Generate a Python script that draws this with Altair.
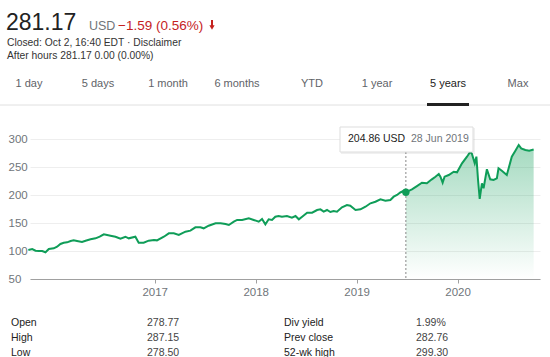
import altair as alt
import pandas as pd

# ---------------- data ----------------
dates = [
    "2015-10-02", "2015-10-16", "2015-10-28", "2015-11-09", "2015-11-21", "2015-12-03", "2015-12-15",
    "2016-01-02", "2016-01-14", "2016-01-26", "2016-02-07", "2016-02-19", "2016-03-03", "2016-03-14",
    "2016-03-26", "2016-04-13", "2016-04-26", "2016-05-14", "2016-06-01", "2016-06-16", "2016-07-01",
    "2016-07-13", "2016-07-25", "2016-08-12", "2016-08-30", "2016-09-17", "2016-09-29", "2016-10-23",
    "2016-11-04", "2016-11-22", "2016-12-10", "2016-12-29",
    "2017-01-09", "2017-02-03", "2017-02-21", "2017-03-11", "2017-03-29", "2017-04-22", "2017-05-10",
    "2017-05-28", "2017-06-15", "2017-06-27", "2017-07-15", "2017-08-09", "2017-08-27", "2017-09-14",
    "2017-09-26", "2017-10-14", "2017-10-26", "2017-11-13", "2017-12-07", "2017-12-25",
    "2018-01-12", "2018-01-24", "2018-02-05", "2018-02-17", "2018-03-01", "2018-03-13", "2018-03-25",
    "2018-04-06", "2018-04-24", "2018-05-12", "2018-05-25", "2018-06-06", "2018-06-18", "2018-07-06",
    "2018-07-24", "2018-08-11", "2018-08-23", "2018-09-04", "2018-09-16", "2018-09-28", "2018-10-10",
    "2018-10-22", "2018-11-09", "2018-11-27", "2018-12-09", "2018-12-28",
    "2019-01-15", "2019-02-02", "2019-02-20", "2019-03-10", "2019-03-28", "2019-04-15", "2019-05-03",
    "2019-05-15", "2019-05-27", "2019-06-08", "2019-06-18", "2019-06-28", "2019-07-20", "2019-08-07",
    "2019-08-25", "2019-09-12", "2019-09-30", "2019-10-13", "2019-10-25", "2019-10-31", "2019-11-08",
    "2019-11-15", "2019-11-30", "2019-12-18", "2019-12-30",
    "2020-01-17", "2020-02-04", "2020-02-16", "2020-02-22", "2020-03-03", "2020-03-09", "2020-03-15",
    "2020-03-21", "2020-03-29", "2020-04-04", "2020-04-16", "2020-04-28", "2020-05-10", "2020-05-22",
    "2020-05-28", "2020-06-09", "2020-06-27", "2020-07-15", "2020-07-28", "2020-08-09", "2020-08-18",
    "2020-09-02", "2020-09-16", "2020-10-02",
]
prices = [
    101.8, 103.6, 100.6, 100.0, 100.0, 97.7, 103.6,
    104.8, 107.7, 112.5, 114.8, 115.5, 117.8, 119.0,
    117.8, 116.0, 118.4, 120.9, 122.6, 125.5, 129.8,
    128.6, 127.4, 125.5, 122.0, 125.5, 122.6, 125.5,
    114.8, 114.8, 118.4, 119.6,
    119.0, 125.5, 131.5, 131.5, 128.6, 134.5, 136.3,
    142.3, 142.3, 140.5, 145.2, 149.5, 149.5, 148.2,
    146.4, 152.3, 155.4, 155.4, 158.4, 155.4,
    152.3, 157.1, 147.6, 156.6, 155.4, 161.3, 162.5,
    161.3, 162.5, 159.5, 162.5, 156.6, 161.3, 168.4,
    168.4, 173.2, 174.4, 170.2, 173.2, 169.6, 171.4,
    170.2, 178.0, 182.1, 180.9, 173.2,
    174.4, 179.1, 185.2, 188.0, 192.3, 189.8, 191.1,
    197.0, 200.0, 204.5, 206.8, 204.86, 210.2, 216.0,
    222.0, 220.9, 228.0, 232.7, 237.5, 232.7, 222.0,
    232.7, 235.7, 241.6, 240.5,
    256.6, 268.4, 277.3, 273.2, 256.6, 268.4, 226.8,
    192.9, 220.9, 212.0, 245.9, 228.0, 226.8, 229.8,
    247.7, 243.4, 235.7, 268.4, 279.1, 289.3, 283.3,
    280.4, 279.1, 281.17,
]
highlight_date = "2019-06-28"
highlight_price = 204.86
highlight_label = "204.86 USD"
highlight_date_label = "28 Jun 2019"

tick_years = [2017, 2018, 2019, 2020]
y_ticks = [50, 100, 150, 200, 250, 300]

price_now = "281.17"
currency = "USD"
change = "\u22121.59 (0.56%)"
closed_note = "Closed: Oct 2, 16:40 EDT \u00b7 Disclaimer"
after_hours = "After hours 281.17 0.00 (0.00%)"

tabs = ["1 day", "5 days", "1 month", "6 months", "YTD", "1 year", "5 years", "Max"]
selected_tab = "5 years"

stat_labels_left = ["Open", "High", "Low"]
stat_values_left = ["278.77", "287.15", "278.50"]
stat_labels_right = ["Div yield", "Prev close", "52-wk high"]
stat_values_right = ["1.99%", "282.76", "299.30"]

# ---------------- layout / style ----------------
FONT = "Liberation Sans"
GREEN = "#0f9d58"
RED = "#c5221f"
OX, OY = 30, 125           # plot origin in page pixels
PW, PH = 510, 154          # plot size
tab_x = [29, 98, 168, 237, 312, 377, 448, 518]
stat_x = [11, 147, 284, 416]
stat_y = [323, 337.5, 352.5]

df = pd.DataFrame({"date": dates, "price": prices})
df_area = df[df["date"] >= highlight_date]
df_hl = pd.DataFrame({"date": [highlight_date], "price": [highlight_price]})
one = pd.DataFrame({"k": [0]})

x_axis = alt.Axis(
    values=[alt.DateTime(year=y, month=1, date=1) for y in tick_years],
    format="%Y", grid=False, domainColor="#a0a0a0", tickColor="#a0a0a0",
    tickSize=4, labelPadding=3, labelFontSize=11.5, labelColor="#70757a",
    labelFont=FONT, title=None,
)
y_axis = alt.Axis(
    values=y_ticks, grid=True, gridColor="#eeeeee", domain=False, ticks=False,
    tickSize=0, labelAlign="left", labelPadding=22, labelFontSize=11.5,
    labelColor="#70757a", labelFont=FONT, title=None, labelOverlap=False,
)
x_scale = alt.Scale(domain=[alt.DateTime(year=2015, month=10, date=8),
                            alt.DateTime(year=2020, month=10, date=25)])
y_scale = alt.Scale(domain=[50, 325], nice=False, zero=False)

x_enc = alt.X("date:T", scale=x_scale, axis=x_axis)
y_enc = alt.Y("price:Q", scale=y_scale, axis=y_axis)


def text_layer(s, ax, ay, size=12.0, color="#222222", align="left", weight="normal"):
    return alt.Chart(one).mark_text(
        align=align, baseline="middle", fontSize=size, color=color,
        font=FONT, fontWeight=weight,
    ).encode(x=alt.value(ax - OX), y=alt.value(ay - OY), text=alt.value(s))


def hrule(x1, x2, ay, color, width):
    return alt.Chart(one).mark_rule(color=color, strokeWidth=width).encode(
        x=alt.value(x1 - OX), x2=alt.value(x2 - OX), y=alt.value(ay - OY))


def vrule_px(ax, y1, y2, color, width):
    return alt.Chart(one).mark_rule(color=color, strokeWidth=width).encode(
        x=alt.value(ax - OX), y=alt.value(y1 - OY), y2=alt.value(y2 - OY))


def box(x1, x2, y1, y2, fill, stroke=None, opacity=1.0):
    kw = dict(color=fill, opacity=opacity)
    if stroke:
        kw.update(stroke=stroke, strokeWidth=1)
    return alt.Chart(one).mark_rect(**kw).encode(
        x=alt.value(x1 - OX), x2=alt.value(x2 - OX),
        y=alt.value(y1 - OY), y2=alt.value(y2 - OY))


area = alt.Chart(df_area).mark_area(
    color=alt.Gradient(
        gradient="linear",
        stops=[alt.GradientStop(color="rgba(15,157,88,0.38)", offset=0),
               alt.GradientStop(color="rgba(15,157,88,0.0)", offset=1)],
        x1=1, x2=1, y1=0, y2=1,
    )
).encode(x=x_enc, y=y_enc, y2=alt.datum(50))

line = alt.Chart(df).mark_line(color=GREEN, strokeWidth=2).encode(x=x_enc, y=y_enc)

vrule = alt.Chart(df_hl).mark_rule(color="#888888", strokeDash=[2, 2], strokeWidth=1).encode(
    x=x_enc, y=alt.value(152 - OY), y2=alt.value(PH))
dot = alt.Chart(df_hl).mark_circle(size=55, color=GREEN, opacity=1).encode(x=x_enc, y=y_enc)

layers = [area, line, vrule, dot]

# tooltip box
layers += [
    box(341, 475, 128, 154, "#000000", opacity=0.06),
    box(340, 473, 127, 152, "#ffffff", stroke="#dddddd"),
    text_layer(highlight_label, 348, 139, size=10.5, color="#222222"),
    text_layer(highlight_date_label, 411, 139, size=10.5, color="#70757a"),
]

# header
layers += [
    text_layer(price_now, 6, 23, size=23, color="#222222"),
    text_layer(currency, 89, 26, size=12.5, color="#70757a"),
    text_layer(change, 118, 26, size=13.5, color=RED),
    vrule_px(212, 20, 26, RED, 2),
    alt.Chart(one).mark_point(shape="triangle-down", filled=True, size=28, color=RED, opacity=1).encode(
        x=alt.value(212 - OX), y=alt.value(27.5 - OY)),
    text_layer(closed_note, 7, 43, size=10.3, color="#333333"),
    text_layer(after_hours, 7, 56, size=10.3, color="#333333"),
]

# tabs
for t, tx in zip(tabs, tab_x):
    layers.append(text_layer(t, tx, 84, size=11, align="center",
                             color="#222222" if t == selected_tab else "#5f6368"))
layers.append(hrule(0, 550, 105, "#e0e0e0", 1))
sel_x = tab_x[tabs.index(selected_tab)]
layers.append(hrule(sel_x - 21, sel_x + 21, 104.5, "#222222", 3))

# stats table
for row in range(3):
    ay = stat_y[row]
    layers += [
        text_layer(stat_labels_left[row], stat_x[0], ay, size=10.5),
        text_layer(stat_values_left[row], stat_x[1], ay, size=10.5, color="#444444"),
        text_layer(stat_labels_right[row], stat_x[2], ay, size=10.5),
        text_layer(stat_values_right[row], stat_x[3], ay, size=10.5, color="#444444"),
    ]

chart = alt.layer(*layers).properties(
    width=PW, height=PH,
    autosize=alt.AutoSizeParams(type="none"),
    padding={"left": OX, "top": OY, "right": 550 - OX - PW, "bottom": 357 - OY - PH},
    background="white",
).configure_view(stroke=None).configure_axisY(labelOverlap=False)

chart.save("out.html", embed_options={"renderer": "svg", "actions": False})
